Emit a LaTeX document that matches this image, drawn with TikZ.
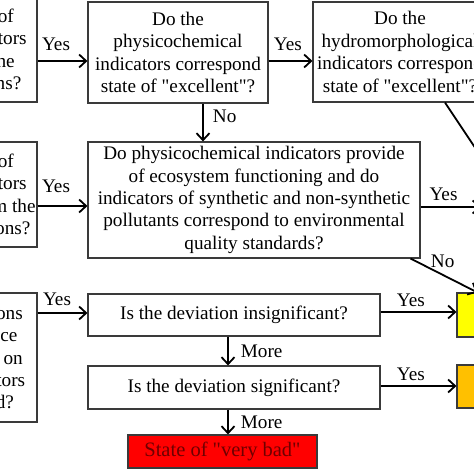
\documentclass[tikz,border=0pt]{standalone}
\usepackage{fontspec}
\setmainfont{Liberation Serif}[Ligatures=TeXOff]
\usetikzlibrary{arrows.meta,calc}
\definecolor{bord}{HTML}{3A3A3A}
\definecolor{yel}{HTML}{FFFF00}
\definecolor{ora}{HTML}{FFC000}
\definecolor{vbred}{HTML}{FF0000}
\definecolor{vbtext}{HTML}{6E0000}
\begin{document}
\begin{tikzpicture}[x=1pt,y=-1pt,
  txt/.style={font=\fontsize{19.2}{22.4}\selectfont},
  box/.style={txt, draw=bord, line width=1.1pt, rectangle, align=center, inner sep=0pt, fill=white},
  flow/.style={line width=1.8pt, -{Straight Barb[length=7pt,width=13pt]}},
  lbl/.style={txt, inner sep=0pt},
  yeslbl/.style={lbl, anchor=south},
  sidelbl/.style={lbl, anchor=west},
]
\useasboundingbox (0,0) rectangle (474,474);
\clip (0,0) rectangle (474,474);
\fill[white] (0,0) rectangle (474,474);

% left column (cropped)
\node[box, minimum width=178pt, minimum height=105pt] (L1) at (-52,49.5)
  {Are the values of\\biological indicators\\correspond to the\\natural conditions?};
\node[box, minimum width=178pt, minimum height=105pt] (L2) at (-52,194.5)
  {Are the values of\\biological indicators\\differ slightly from the\\reference conditions?};
\node[box, minimum width=181pt, minimum height=129pt] (L3) at (-53.5,357.5)
  {Have the deviations\\from the reference\\conditions based on\\biological indicators\\been established?};

% middle column
\node[box, minimum width=180pt, minimum height=101pt] (M1) at (178,52.5)
  {Do the\\physicochemical\\indicators correspond\\state of "excellent"?};
\node[box, minimum width=174pt, minimum height=100pt] (R1) at (400,52)
  {Do the\\hydromorphological\\indicators correspond\\state of "excellent"?};
\node[box, minimum width=332pt, minimum height=116pt] (M2) at (254,200)
  {Do physicochemical indicators provide\\of ecosystem functioning and do\\indicators of synthetic and non-synthetic\\pollutants correspond to environmental\\quality standards?};
\node[box, minimum width=292pt, minimum height=42pt] (M3) at (234,315)
  {Is the deviation insignificant?};
\node[box, minimum width=292pt, minimum height=43pt] (M4) at (234,387.5)
  {Is the deviation significant?};

% state boxes
\node[box, fill=yel, minimum width=103pt, minimum height=44pt] (Yel) at (508.5,315) {};
\node[box, fill=ora, minimum width=103pt, minimum height=43pt] (Ora) at (508.5,386.5) {};
\node[box, fill=vbred, text=vbtext, font=\fontsize{20.5}{24}\selectfont,
      minimum width=189pt, minimum height=33pt] (Red) at (222.5,451.5) {State of "very bad"};

% off-picture targets
\coordinate (goodin) at (481,207);
\coordinate (goodtop) at (492,173);

% connector anchors
\coordinate (m1in) at ([yshift=-8.5pt]M1.west);
\coordinate (r1in) at ([yshift=-9pt]R1.west);
\coordinate (m1out) at ([xshift=25pt]M1.south);
\coordinate (m2in) at ([yshift=-6pt]M2.west);
\coordinate (r1out) at ([xshift=45pt]R1.south);
\coordinate (m2no) at ([xshift=-10pt]M2.south east);
\coordinate (yeltop) at ([xshift=21pt]Yel.north west);
\coordinate (m3in) at ([yshift=2pt]M3.west);
\coordinate (yin) at ([yshift=3pt]Yel.west);
\coordinate (oin) at ([yshift=0.5pt]Ora.west);
\coordinate (m3out) at ([xshift=-6pt]M3.south);
\coordinate (m4out) at ([xshift=-6pt]M4.south);

% connectors
\draw[flow] (L1.east |- m1in) -- node[yeslbl, pos=0.37, yshift=9pt] (y1) {Yes} (m1in);
\draw[flow] (M1.east |- r1in) -- node[yeslbl, pos=0.44, yshift=9pt] (y2) {Yes} (r1in);
\draw[flow] (m1out) -- node[sidelbl, pos=0.33, xshift=9pt] (n1) {No} (m1out |- M2.north);
\draw[flow] (L2.east |- m2in) -- node[yeslbl, pos=0.37, yshift=12pt] (y3) {Yes} (m2in);
\draw[flow] (M2.east |- goodin) -- node[yeslbl, pos=0.38, yshift=5pt] (y4) {Yes} (goodin);
\draw[flow] (r1out) -- (goodtop);
\draw[flow] (m2no) -- node[yeslbl, pos=0.48, yshift=6pt] (n2) {No} (yeltop);
\draw[flow] (L3.east |- m3in) -- node[yeslbl, pos=0.39, yshift=6pt] (y5) {Yes} (m3in);
\draw[flow] (M3.east |- yin) -- node[yeslbl, pos=0.4, yshift=4pt] (y6) {Yes} (yin);
\draw[flow] (M4.east |- oin) -- node[yeslbl, pos=0.4, yshift=4pt] (y7) {Yes} (oin);
\draw[flow] (m3out) -- node[sidelbl, pos=0.5, xshift=12pt] (mo1) {More} (m3out |- M4.north);
\draw[flow] (m4out) -- node[sidelbl, pos=0.5, xshift=12pt] (mo2) {More} (m4out |- Red.north);
\end{tikzpicture}
\end{document}
